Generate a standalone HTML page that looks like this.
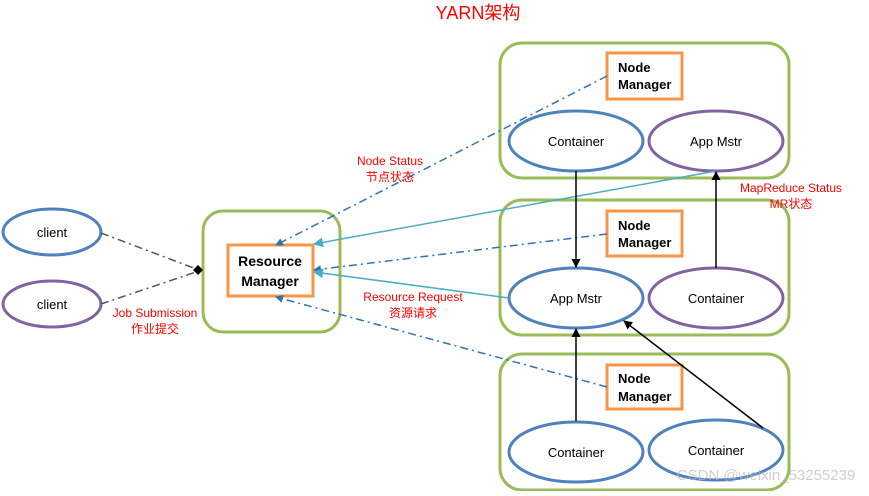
<!DOCTYPE html>
<html><head><meta charset="utf-8"><style>
html,body{margin:0;padding:0;background:#fff;}
svg text{font-family:"Liberation Sans","Noto Sans CJK SC",sans-serif;}
</style></head><body>
<svg width="869" height="491" viewBox="0 0 869 491" xmlns="http://www.w3.org/2000/svg">
<defs>
<marker id="ab" markerWidth="8" markerHeight="8" refX="7" refY="4" orient="auto" markerUnits="userSpaceOnUse"><path d="M0,0 L8,4 L0,8z" fill="#2e75b6"/></marker>
<marker id="at" markerWidth="10" markerHeight="10" refX="9" refY="5" orient="auto" markerUnits="userSpaceOnUse"><path d="M0,0 L10,5 L0,10z" fill="#4bacc6"/></marker>
<marker id="ak" markerWidth="9" markerHeight="9" refX="8" refY="4.5" orient="auto" markerUnits="userSpaceOnUse"><path d="M0,0 L9,4.5 L0,9z" fill="#000"/></marker>
<marker id="ad" markerWidth="12" markerHeight="10" refX="11" refY="5" orient="auto" markerUnits="userSpaceOnUse"><path d="M0,5 L6,0 L12,5 L6,10z" fill="#000"/></marker>
</defs>
<text x="478" y="19" font-size="18" fill="#ff0000" text-anchor="middle">YARN架构</text>

<g fill="none" stroke="#9bbb59" stroke-width="3">
<rect x="500" y="43" width="289" height="135" rx="22"/>
<rect x="500" y="200" width="289" height="135" rx="22"/>
<rect x="500" y="354" width="289" height="136" rx="22"/>
<rect x="203" y="211" width="137" height="121" rx="20"/>
</g>
<g fill="#fff" stroke="#f79646" stroke-width="3">
<rect x="607" y="53" width="75" height="46"/>
<rect x="607" y="211" width="75" height="45"/>
<rect x="607" y="365" width="75" height="44"/>
<rect x="228" y="245" width="85" height="51"/>
</g>
<g font-size="13" font-weight="bold" fill="#000">
<text x="618" y="72">Node</text><text x="618" y="89">Manager</text>
<text x="618" y="230">Node</text><text x="618" y="247">Manager</text>
<text x="618" y="383">Node</text><text x="618" y="401">Manager</text>
<text x="270" y="266" text-anchor="middle" font-size="14">Resource</text>
<text x="270" y="286" text-anchor="middle" font-size="14">Manager</text>
</g>

<g fill="none" stroke-width="3">
<ellipse cx="576" cy="141" rx="67" ry="30" stroke="#4f81bd"/>
<ellipse cx="716" cy="141" rx="67" ry="30" stroke="#8064a2"/>
<ellipse cx="576" cy="298" rx="67" ry="30" stroke="#4f81bd"/>
<ellipse cx="716" cy="298" rx="67" ry="30" stroke="#8064a2"/>
<ellipse cx="576" cy="452" rx="67" ry="30" stroke="#4f81bd"/>
<ellipse cx="716" cy="450" rx="67" ry="30" stroke="#4f81bd"/>
<ellipse cx="52" cy="232" rx="49" ry="23" stroke="#4f81bd"/>
<ellipse cx="52" cy="304" rx="49" ry="23" stroke="#8064a2"/>
</g>
<g font-size="13" fill="#000" text-anchor="middle">
<text x="576" y="146">Container</text>
<text x="716" y="146">App Mstr</text>
<text x="576" y="303">App Mstr</text>
<text x="716" y="303">Container</text>
<text x="576" y="457">Container</text>
<text x="716" y="455">Container</text>
<text x="52" y="237">client</text>
<text x="52" y="309">client</text>
</g>

<g fill="none" stroke="#2e75b6" stroke-width="1.5" stroke-dasharray="8,4,2,4">
<line x1="607" y1="76" x2="276" y2="245" marker-end="url(#ab)"/>
<line x1="607" y1="234" x2="314" y2="270" marker-end="url(#ab)"/>
<line x1="607" y1="387" x2="276" y2="297" marker-end="url(#ab)"/>
</g>
<g fill="none" stroke="#4bacc6" stroke-width="1.5">
<line x1="716" y1="171" x2="314" y2="244" marker-end="url(#at)"/>
<line x1="509" y1="298" x2="314" y2="272" marker-end="url(#at)"/>
</g>
<g fill="none" stroke="#000" stroke-width="1.5">
<line x1="576" y1="171" x2="576" y2="267" marker-end="url(#ak)"/>
<line x1="716" y1="268" x2="716" y2="172" marker-end="url(#ak)"/>
<line x1="576" y1="421" x2="576" y2="329" marker-end="url(#ak)"/>
<line x1="763" y1="428" x2="624" y2="321" marker-end="url(#ak)"/>
</g>
<g fill="none" stroke="#555" stroke-width="1.5" stroke-dasharray="8,4,2,4">
<line x1="101" y1="233" x2="199" y2="270"/>
<line x1="101" y1="304" x2="199" y2="271"/>
</g>
<path d="M193,270 L198,265 L203,270 L198,275z" fill="#000"/>

<g font-size="12" fill="#ff0000" text-anchor="middle">
<text x="390" y="165">Node Status</text><text x="390" y="181">节点状态</text>
<text x="791" y="192">MapReduce Status</text><text x="791" y="208">MR状态</text>
<text x="413" y="301">Resource Request</text><text x="413" y="317">资源请求</text>
<text x="155" y="317">Job Submission</text><text x="155" y="333">作业提交</text>
</g>
<text x="766" y="480" font-size="15" fill="#bbb" fill-opacity="0.7" text-anchor="middle">CSDN @weixin_53255239</text>
</svg>
</body></html>
